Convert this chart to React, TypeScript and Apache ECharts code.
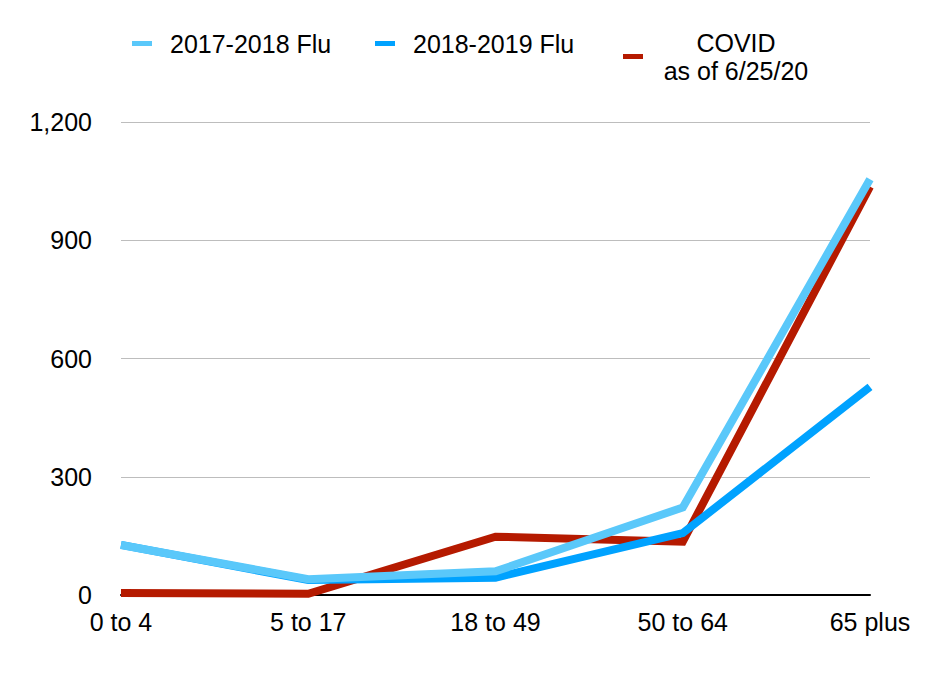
import React, { useEffect, useRef } from "react";
import * as echarts from "echarts";

const ageGroups = ["0 to 4", "5 to 17", "18 to 49", "50 to 64", "65 plus"];
const flu2017 = [127, 40, 60, 222, 1055];
const flu2018 = [127, 38, 44, 157, 528];
const covid = [5, 3, 148, 135, 1036];
const yTicks = { min: 0, max: 1200, interval: 300 };

const FONT = "'Liberation Sans', Arial, Helvetica, sans-serif";
const FONT_SIZE = 25;
const COLORS = { flu2017: "#5AC8FA", flu2018: "#00A2FF", covid: "#B51A00" };

export default function App() {
  const ref = useRef<HTMLDivElement>(null);

  useEffect(() => {
    if (!ref.current) return;
    const chart = echarts.init(ref.current, undefined, { renderer: "svg" });

    const legendBase = {
      orient: "horizontal",
      padding: 0,
      icon: "rect",
      itemWidth: 20,
      itemHeight: 5,
      selectedMode: false,
      textStyle: { fontFamily: FONT, fontSize: FONT_SIZE, color: "#000", padding: [0, 0, 0, 13] },
    };

    const lineSeries = (name: string, data: number[], color: string) => ({
      name,
      type: "line",
      data,
      symbol: "none",
      color,
      lineStyle: { width: 8, color, cap: "butt", join: "miter" },
    });

    chart.setOption({
      animation: false,
      backgroundColor: "#fff",
      legend: [
        { ...legendBase, data: ["2017-2018 Flu"], left: 132, top: 31 },
        { ...legendBase, data: ["2018-2019 Flu"], left: 375, top: 31 },
        {
          ...legendBase,
          data: ["COVID"],
          left: 623,
          top: 30,
          formatter: () => "{a|COVID}\n{a|as of 6/25/20}",
          textStyle: {
            ...legendBase.textStyle,
            padding: [0, 0, 0, 13],
            rich: {
              a: { fontFamily: FONT, fontSize: FONT_SIZE, color: "#000", width: 150, align: "center", lineHeight: 28 },
            },
          },
        },
      ],
      grid: { left: 121, right: 78, top: 122, bottom: 97, containLabel: false },
      xAxis: {
        type: "category",
        data: ageGroups,
        boundaryGap: false,
        axisLine: { show: true, lineStyle: { color: "#000", width: 2 } },
        axisTick: { show: false },
        axisLabel: { fontFamily: FONT, fontSize: FONT_SIZE, color: "#000", margin: 14 },
        splitLine: { show: false },
      },
      yAxis: {
        type: "value",
        ...yTicks,
        axisLine: { show: false },
        axisTick: { show: false },
        axisLabel: {
          fontFamily: FONT,
          fontSize: FONT_SIZE,
          color: "#000",
          margin: 29,
          formatter: (v: number) => v.toLocaleString("en-US"),
        },
        splitLine: { show: true, lineStyle: { color: "#BDBDBD", width: 1 } },
      },
      series: [
        lineSeries("COVID", covid, COLORS.covid),
        lineSeries("2018-2019 Flu", flu2018, COLORS.flu2018),
        lineSeries("2017-2018 Flu", flu2017, COLORS.flu2017),
      ],
    });

    return () => chart.dispose();
  }, []);

  return <div ref={ref} style={{ width: 948, height: 692, margin: -8 }} />;
}
